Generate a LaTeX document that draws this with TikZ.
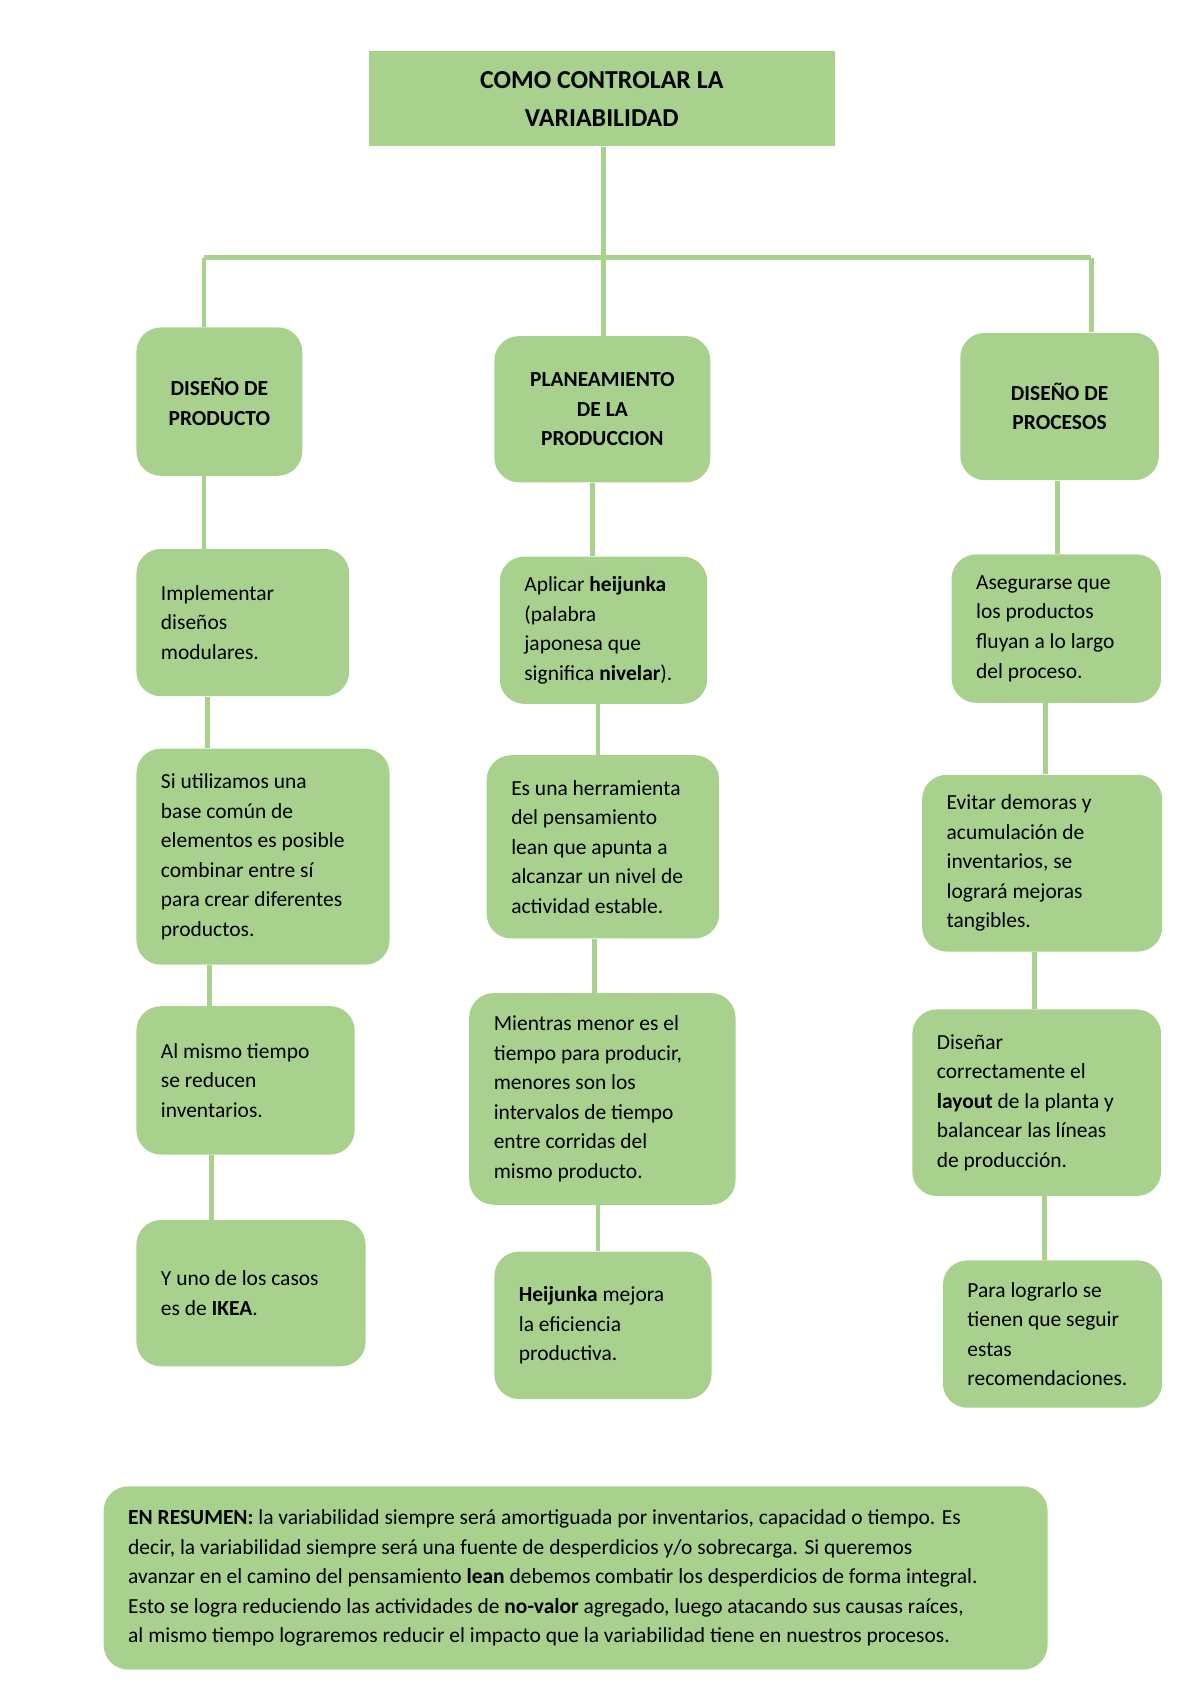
\documentclass[tikz,border=0pt]{standalone}
\usepackage{fontspec}
\setmainfont{Carlito}
\definecolor{gr}{HTML}{A9D18E}
\begin{document}
\begin{tikzpicture}[x=0.02cm,y=-0.02cm,
  box/.style={fill=gr,rounded corners=0.45cm,inner xsep=0.45cm,inner ysep=0pt,align=flush left,font=\fontsize{11.2}{15.4}\selectfont},
  hd/.style={align=flush center,font=\fontsize{11.2}{15.4}\selectfont\bfseries},
  ln/.style={draw=gr,line width=2.4pt}]
\useasboundingbox (0,0) rectangle (1100,1556);
\newcommand\bx[7][]{\pgfmathsetmacro\bxcx{(#3+#5)/2}\pgfmathsetmacro\bxcy{(#4+#6)/2}\pgfmathsetmacro\bxw{(#5-#3)*0.02}\pgfmathsetmacro\bxh{(#6-#4)*0.02}\pgfmathsetmacro\bxtw{(#5-#3)*0.02-0.9}\node[box,minimum width=\bxw cm,minimum height=\bxh cm,text width=\bxtw cm,#1] (#2) at (\bxcx,\bxcy) {#7};}
\bx[rounded corners=0pt,align=flush center,font=\fontsize{13.5}{20}\selectfont\bfseries]{t}{338}{47}{765}{134}{COMO CONTROLAR LA\\VARIABILIDAD}
\bx[hd,inner xsep=0.3cm]{a0}{125}{300}{277}{436}{DISEÑO DE\\PRODUCTO}
\bx{a1}{125}{503}{320}{638}{Implementar\\diseños\\modulares.}
\bx{a2}{125}{686}{357}{884}{Si utilizamos una\\base común de\\elementos es posible\\combinar entre sí\\para crear diferentes\\productos.}
\bx{a3}{125}{922}{325}{1058}{Al mismo tiempo\\se reducen\\inventarios.}
\bx{a4}{125}{1118}{335}{1252}{Y uno de los casos\\es de \textbf{IKEA}.}
\bx[hd]{b0}{453}{308}{651}{442}{PLANEAMIENTO\\DE LA\\PRODUCCION}
\bx{b1}{458}{510}{648}{645}{Aplicar \textbf{heijunka}\\(palabra\\japonesa que\\significa \textbf{nivelar}).}
\bx{b2}{446}{692}{659}{860}{Es una herramienta\\del pensamiento\\lean que apunta a\\alcanzar un nivel de\\actividad estable.}
\bx{b3}{430}{910}{674}{1104}{Mientras menor es el\\tiempo para producir,\\menores son los\\intervalos de tiempo\\entre corridas del\\mismo producto.}
\bx{b4}{453}{1147}{652}{1282}{\textbf{Heijunka} mejora\\la eficiencia\\productiva.}
\bx[hd]{c0}{880}{305}{1062}{440}{DISEÑO DE\\PROCESOS}
\bx{c1}{872}{508}{1064}{644}{Asegurarse que\\los productos\\fluyan a lo largo\\del proceso.}
\bx{c2}{845}{710}{1065}{872}{Evitar demoras y\\acumulación de\\inventarios, se\\logrará mejoras\\tangibles.}
\bx{c3}{836}{925}{1064}{1096}{Diseñar\\correctamente el\\\textbf{layout} de la planta y\\balancear las líneas\\de producción.}
\bx{c4}{864}{1155}{1065}{1290}{Para lograrlo se\\tienen que seguir\\estas\\recomendaciones.}
\bx[inner xsep=0.4cm]{s}{95}{1362}{960}{1530}{\textbf{EN RESUMEN:} la variabilidad siempre será amortiguada por inventarios, capacidad o tiempo. Es\\decir, la variabilidad siempre será una fuente de desperdicios y/o sobrecarga. Si queremos\\avanzar en el camino del pensamiento \textbf{lean} debemos combatir los desperdicios de forma integral.\\Esto se logra reduciendo las actividades de \textbf{no-valor} agregado, luego atacando sus causas raíces,\\al mismo tiempo lograremos reducir el impacto que la variabilidad tiene en nuestros procesos.}
\coordinate (hl) at (187,236); \coordinate (hr) at (1000,236);
\draw[ln] (553,0 |- t.south) -- (553,0 |- b0.north);
\draw[ln] (hl) -- (hr);
\draw[ln] (hl) -- (187,0 |- a0.north);
\draw[ln] (hr) -- (1000,0 |- c0.north);
\draw[ln] (187,0 |- a0.south) -- (187,0 |- a1.north);
\draw[ln] (190,0 |- a1.south) -- (190,0 |- a2.north);
\draw[ln] (192,0 |- a2.south) -- (192,0 |- a3.north);
\draw[ln] (194,0 |- a3.south) -- (194,0 |- a4.north);
\draw[ln] (543,0 |- b0.south) -- (543,0 |- b1.north);
\draw[ln] (548,0 |- b1.south) -- (548,0 |- b2.north);
\draw[ln] (545,0 |- b2.south) -- (545,0 |- b3.north);
\draw[ln] (548,0 |- b3.south) -- (548,0 |- b4.north);
\draw[ln] (969,0 |- c0.south) -- (969,0 |- c1.north);
\draw[ln] (958,0 |- c1.south) -- (958,0 |- c2.north);
\draw[ln] (948,0 |- c2.south) -- (948,0 |- c3.north);
\draw[ln] (957,0 |- c3.south) -- (957,0 |- c4.north);
\end{tikzpicture}
\end{document}
